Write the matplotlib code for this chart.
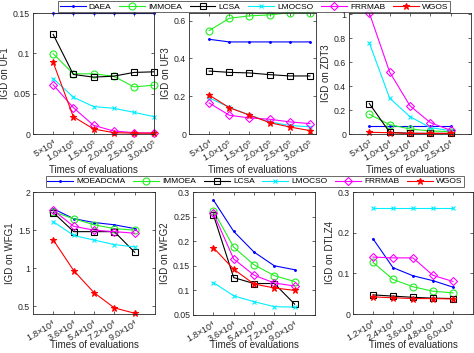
import numpy as np
import matplotlib
matplotlib.use('Agg')
import matplotlib.pyplot as plt
from matplotlib.transforms import blended_transform_factory

plt.rcParams['font.family'] = ['Liberation Sans', 'DejaVu Sans']
plt.rcParams['mathtext.fontset'] = 'custom'
plt.rcParams['mathtext.rm'] = 'Liberation Sans'
plt.rcParams['mathtext.it'] = 'Liberation Sans:italic'

# x positions (evaluations)
x_uf = [5e4, 1e5, 1.5e5, 2e5, 2.5e5, 3e5]
x_zdt3 = [5e3, 1e4, 1.5e4, 2e4, 2.5e4]
x_wfg = [1.8e4, 3.6e4, 5.4e4, 7.2e4, 9e4]
x_dtlz4 = [1.2e4, 2.4e4, 3.6e4, 4.8e4, 6e4]

# tick labels
xt_uf = [r'$5{\times}10^4$', r'$1.0{\times}10^5$', r'$1.5{\times}10^5$',
         r'$2.0{\times}10^5$', r'$2.5{\times}10^5$', r'$3.0{\times}10^5$']
xt_zdt3 = [r'$5{\times}10^3$', r'$1.0{\times}10^4$', r'$1.5{\times}10^4$',
           r'$2.0{\times}10^4$', r'$2.5{\times}10^4$']
xt_wfg = [r'$1.8{\times}10^4$', r'$3.6{\times}10^4$', r'$5.4{\times}10^4$',
          r'$7.2{\times}10^4$', r'$9.0{\times}10^4$']
xt_dtlz4 = [r'$1.2{\times}10^4$', r'$2.4{\times}10^4$', r'$3.6{\times}10^4$',
            r'$4.8{\times}10^4$', r'$6.0{\times}10^4$']

top_algs = ['DAEA', 'IMMOEA', 'LCSA', 'LMOCSO', 'FRRMAB', 'WGOS']
bot_algs = ['MOEADCMA', 'IMMOEA', 'LCSA', 'LMOCSO', 'FRRMAB', 'WGOS']

# IGD values, order as in the legends
uf1 = [
    [0.150, 0.150, 0.150, 0.150, 0.150, 0.150],
    [0.0995, 0.0746, 0.0746, 0.0717, 0.0584, 0.0605],
    [0.1235, 0.0738, 0.0705, 0.0717, 0.0763, 0.0771],
    [0.0688, 0.0456, 0.034, 0.0319, 0.0269, 0.0215],
    [0.061, 0.0327, 0.0108, 0.0037, 0.0017, 0.0012],
    [0.0887, 0.0215, 0.0062, 0.0017, 0.001, 0.001],
]
uf3 = [
    [0.501, 0.487, 0.487, 0.487, 0.487, 0.487],
    [0.547, 0.612, 0.625, 0.630, 0.642, 0.642],
    [0.333, 0.326, 0.323, 0.314, 0.307, 0.307],
    [0.192, 0.141, 0.100, 0.064, 0.045, 0.038],
    [0.164, 0.099, 0.085, 0.078, 0.064, 0.055],
    [0.206, 0.139, 0.100, 0.060, 0.037, 0.018],
]
zdt3 = [
    [0.070, 0.070, 0.070, 0.070, 0.070],
    [0.165, 0.078, 0.042, 0.025, 0.020],
    [0.254, 0.014, 0.006, 0.005, 0.005],
    [0.760, 0.299, 0.145, 0.053, 0.028],
    [1.010, 0.517, 0.235, 0.095, 0.031],
    [0.014, 0.011, 0.005, 0.005, 0.005],
]
wfg1 = [
    [1.78, 1.65, 1.60, 1.57, 1.52],
    [1.74, 1.65, 1.57, 1.52, 1.50],
    [1.73, 1.48, 1.48, 1.48, 1.21],
    [1.61, 1.43, 1.37, 1.31, 1.28],
    [1.76, 1.55, 1.50, 1.48, 1.46],
    [1.37, 0.97, 0.68, 0.48, 0.41],
]
wfg2 = [
    [0.284, 0.220, 0.178, 0.150, 0.142],
    [0.262, 0.188, 0.152, 0.130, 0.118],
    [0.254, 0.126, 0.114, 0.114, 0.072],
    [0.116, 0.089, 0.077, 0.067, 0.066],
    [0.257, 0.164, 0.131, 0.115, 0.109],
    [0.187, 0.143, 0.113, 0.105, 0.100],
]
dtlz4 = [
    [0.185, 0.114, 0.094, 0.082, 0.066],
    [0.127, 0.085, 0.067, 0.056, 0.052],
    [0.047, 0.044, 0.041, 0.039, 0.038],
    [0.261, 0.261, 0.261, 0.261, 0.261],
    [0.140, 0.138, 0.138, 0.095, 0.080],
    [0.042, 0.040, 0.038, 0.038, 0.037],
]

# line styles (same order for both rows)
colors = ['#0000ff', '#22ee22', '#000000', '#00eeff', '#ff00ff', '#ff0000']
markers = ['.', 'o', 's', 'x', 'D', '*']
msizes = [2.5, 5, 4, 3.5, 4.5, 4.5]
fills = ['full', 'none', 'none', 'full', 'none', 'full']

W, H = 474, 353
fig = plt.figure(figsize=(W / 100, H / 100), dpi=100)


def rect(l, t, r, b):
    return [l / W, 1 - b / H, (r - l) / W, (b - t) / H]


panels = [
    (rect(33, 13, 154, 134), x_uf, xt_uf, uf1, 'IGD on UF1', (0, 3e5), (0, 0.15), [0, 0.05, 0.1, 0.15]),
    (rect(189, 13, 316, 134), x_uf, xt_uf, uf3, 'IGD on UF3', (0, 3.15e5), (0, 0.64), [0, 0.2, 0.4, 0.6]),
    (rect(349, 13, 471, 134), x_zdt3, xt_zdt3, zdt3, 'IGD on ZDT3', (0, 3e4), (0, 1.01), [0, 0.2, 0.4, 0.6, 0.8, 1]),
    (rect(33, 192, 155, 314), x_wfg, xt_wfg, wfg1, 'IGD on WFG1', (0, 1.08e5), (0.4, 2), [0.5, 1, 1.5, 2]),
    (rect(193, 192, 315, 315), x_wfg, xt_wfg, wfg2, 'IGD on WFG2', (0, 1.08e5), (0.05, 0.3), [0.05, 0.1, 0.15, 0.2, 0.25, 0.3]),
    (rect(353, 192, 473, 314), x_dtlz4, xt_dtlz4, dtlz4, 'IGD on DTLZ4', (0, 7.2e4), (0, 0.3), [0, 0.1, 0.2, 0.3]),
]

handles_top = []
handles_bot = []
for k, (r, xs, xts, data, ylab, xl, yl, yt) in enumerate(panels):
    ax = fig.add_axes(r)
    hs = []
    for i, ys in enumerate(data):
        h, = ax.plot(xs, ys, color=colors[i], marker=markers[i], markersize=msizes[i],
                     fillstyle=fills[i], markeredgewidth=0.8, linewidth=0.8, clip_on=False)
        hs.append(h)
    if k == 0:
        handles_top = hs
    if k == 3:
        handles_bot = hs
    ax.set_xlim(*xl)
    ax.set_ylim(*yl)
    ax.set_xticks(xs)
    ax.set_xticklabels(xts, rotation=30, ha='right', rotation_mode='anchor', fontsize=6.5)
    ax.set_yticks(yt)
    ax.set_yticklabels([('%g' % v) for v in yt], fontsize=6.3)
    ax.tick_params(direction='in', top=True, right=True, length=2.5, width=0.5,
                   pad=2, colors='#262626')
    for s in ax.spines.values():
        s.set_linewidth(0.6)
        s.set_color('#262626')
    ax.set_xlabel('Times of evaluations', fontsize=7, color='#262626')
    y_lab = 165 if k < 3 else 340
    ax.xaxis.set_label_coords(0.5, 1 - y_lab / H,
                              transform=blended_transform_factory(ax.transAxes, fig.transFigure))
    ax.set_ylabel(ylab, fontsize=7, labelpad=2, color='#262626')

leg_kw = dict(ncol=6, fontsize=6, frameon=True, fancybox=False, handlelength=3.1,
              handletextpad=0.4, columnspacing=0.9, borderpad=0.2, loc='center')
l1 = fig.legend(handles_top, top_algs, bbox_to_anchor=(254 / W, 1 - 6.7 / H), **leg_kw)
l2 = fig.legend(handles_bot, bot_algs, bbox_to_anchor=(255 / W, 1 - 181.5 / H), **leg_kw)
for lg in (l1, l2):
    lg.get_frame().set_edgecolor('#262626')
    lg.get_frame().set_linewidth(0.6)

fig.savefig('out.png', dpi=100)
